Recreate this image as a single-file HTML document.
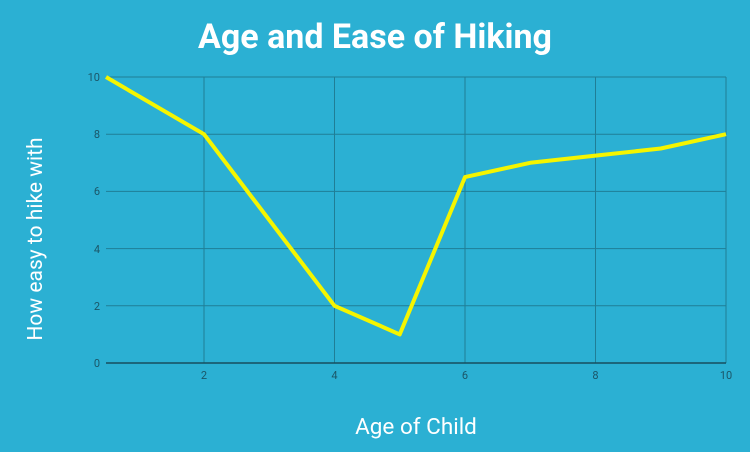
<!DOCTYPE html><html><head><style>html,body{margin:0;width:750px;height:452px;background:#2bb0d3;overflow:hidden}svg{display:block}</style></head><body>
<svg width="750" height="452" xmlns="http://www.w3.org/2000/svg" font-family="Roboto, 'Liberation Sans', sans-serif">
<rect width="750" height="452" fill="#2bb0d3"/>
<text x="375" y="48" text-anchor="middle" font-size="34" font-weight="bold" fill="#fff">Age and Ease of Hiking</text>
<g stroke="#1f7e96" stroke-width="1">
<line x1="106" y1="77" x2="726" y2="77"/><line x1="106" y1="134.2" x2="726" y2="134.2"/><line x1="106" y1="191.4" x2="726" y2="191.4"/><line x1="106" y1="248.6" x2="726" y2="248.6"/><line x1="106" y1="305.8" x2="726" y2="305.8"/>
<line x1="204" y1="77" x2="204" y2="363"/><line x1="334.5" y1="77" x2="334.5" y2="363"/><line x1="465" y1="77" x2="465" y2="363"/><line x1="595.5" y1="77" x2="595.5" y2="363"/><line x1="726" y1="77" x2="726" y2="363"/>
</g>
<line x1="106" y1="363" x2="726" y2="363" stroke="#174e5e" stroke-width="1.5"/>
<g font-size="11" fill="#1b5668" text-anchor="end">
<text x="100" y="81">10</text><text x="100" y="138">8</text><text x="100" y="195">6</text><text x="100" y="253">4</text><text x="100" y="310">2</text><text x="100" y="367">0</text>
</g>
<g font-size="11" fill="#1b5668" text-anchor="middle">
<text x="204" y="379">2</text><text x="334.5" y="379">4</text><text x="465" y="379">6</text><text x="595.5" y="379">8</text><text x="726" y="379">10</text>
</g>
<polyline fill="none" stroke="#f5f500" stroke-width="4" stroke-linejoin="round" points="106,77 204,134.2 334.5,305.8 399.75,334.4 465,177.1 530.25,162.8 595.5,155.65 660.75,148.5 726,134.2"/>
<text x="416" y="434" text-anchor="middle" font-size="22.5" fill="#fff">Age of Child</text>
<text transform="translate(42,239) rotate(-90)" text-anchor="middle" font-size="21" fill="#fff">How easy to hike with</text>
</svg>
</body></html>
